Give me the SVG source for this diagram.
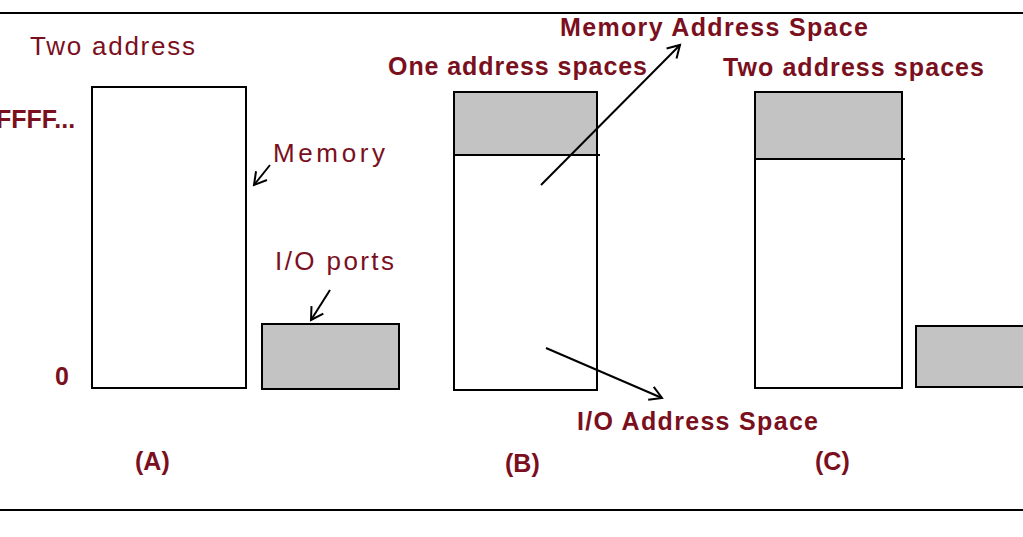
<svg xmlns="http://www.w3.org/2000/svg" width="1023" height="537" viewBox="0 0 1023 537">
<defs>
<style>
text{font-family:"Liberation Sans",Arial,sans-serif;font-size:26px;fill:#7a0f1e}
.b{font-weight:bold;font-size:25px}
.box{fill:#fff;stroke:#000;stroke-width:2}
.g{fill:#c3c3c3;stroke:#000;stroke-width:2}
.c{stroke:#000;stroke-width:2;fill:none}
</style>
<marker id="ah" markerWidth="16" markerHeight="16" refX="13" refY="8" orient="auto" markerUnits="userSpaceOnUse">
<path d="M1,1 L13,8 L1,15" fill="none" stroke="#000" stroke-width="2"/>
</marker>
</defs>
<rect width="1023" height="537" fill="#fff"/>
<line x1="0" y1="13" x2="1023" y2="13" class="c"/>
<line x1="0" y1="510" x2="1023" y2="510" class="c"/>
<g id="nodeA">
<rect class="box" x="92" y="87" width="154" height="301"/>
<rect class="g" x="262" y="324" width="137" height="65"/>
<text x="30" y="55" textLength="165">Two address</text>
<text class="b" x="-4" y="128">FFFF...</text>
<text class="b" x="55" y="385">0</text>
<text x="273" y="162" textLength="112">Memory</text>
<text x="275" y="270" textLength="119">I/O ports</text>
<text class="b" x="135" y="470">(A)</text>
</g>
<g id="nodeB">
<rect class="box" x="454" y="92" width="143" height="298"/>
<rect class="g" x="454" y="92" width="143" height="63"/>
<line class="c" x1="454" y1="155" x2="600" y2="155"/>
<text class="b" x="388" y="75" textLength="259">One address spaces</text>
<text class="b" x="560" y="36" textLength="308">Memory Address Space</text>
<text class="b" x="577" y="430" textLength="241">I/O Address Space</text>
<text class="b" x="505" y="472">(B)</text>
</g>
<g id="nodeC">
<rect class="box" x="755" y="92" width="147" height="296"/>
<rect class="g" x="755" y="92" width="147" height="67"/>
<line class="c" x1="755" y1="159" x2="905" y2="159"/>
<rect class="g" x="916" y="326" width="110" height="61"/>
<text class="b" x="723" y="76" textLength="261">Two address spaces</text>
<text class="b" x="815" y="470">(C)</text>
</g>
<g id="connectors">
<line class="c" x1="270" y1="165" x2="254" y2="185" marker-end="url(#ah)"/>
<line class="c" x1="330" y1="290" x2="311" y2="320" marker-end="url(#ah)"/>
<line class="c" x1="541" y1="185" x2="680" y2="45" marker-end="url(#ah)"/>
<line class="c" x1="546" y1="348" x2="662" y2="398" marker-end="url(#ah)"/>
</g>
</svg>
